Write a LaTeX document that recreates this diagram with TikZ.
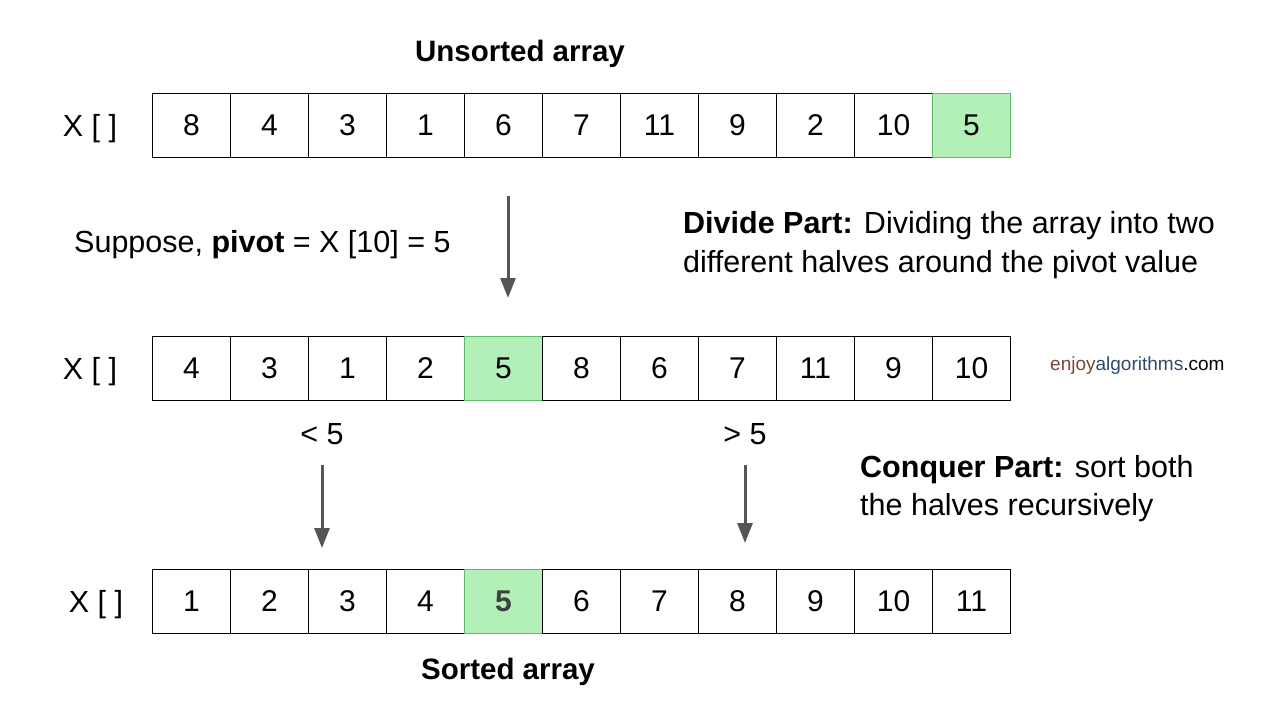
\documentclass[tikz,border=0pt]{standalone}
\usepackage{fontspec}
\setmainfont{Liberation Sans}
\usetikzlibrary{arrows.meta}
\definecolor{cellgreen}{HTML}{B3F0B8}
\definecolor{cellgreenb}{HTML}{5DBB6A}
\definecolor{arrowgray}{HTML}{555555}
\definecolor{wmbrown}{HTML}{7D4638}
\definecolor{wmblue}{HTML}{2F4B6C}
\tikzset{
  cell/.style={draw=black, line width=1pt, minimum width=78pt, minimum height=64pt, inner sep=0pt, font=\fontsize{30}{34}\selectfont, anchor=north west, fill=white},
  pivotcell/.style={cell, fill=cellgreen, draw=cellgreenb},
  lbl/.style={font=\fontsize{30.5}{34}\selectfont, inner sep=0pt, anchor=base},
  title/.style={font=\fontsize{29.5}{34}\selectfont\bfseries, inner sep=0pt, anchor=base},
  downarrow/.style={draw=arrowgray, line width=3pt, -{Triangle[length=20pt,width=15pt]}},
}
\begin{document}
\begin{tikzpicture}[x=1pt,y=-1pt]
\useasboundingbox (0,0) rectangle (1280,720);
\fill[white] (0,0) rectangle (1280,720);
% row 1
\foreach \v [count=\i from 0] in {8,4,3,1,6,7,11,9,2,10} {
  \node[cell] (ra\i) at ({152+78*\i},93) {\v};
}
\node[pivotcell] (ra10) at ({152+78*10},93) {5};
% row 2
\foreach \v [count=\i from 0] in {4,3,1,2} {
  \node[cell] (rb\i) at ({152+78*\i},336) {\v};
}
\node[pivotcell] (rb4) at ({152+78*4},336) {5};
\foreach \v [count=\i from 5] in {8,6,7,11,9,10} {
  \node[cell] (rb\i) at ({152+78*\i},336) {\v};
}
% row 3
\foreach \v [count=\i from 0] in {1,2,3,4} {
  \node[cell] (rc\i) at ({152+78*\i},569) {\v};
}
\node[pivotcell, text=black!75, font=\fontsize{30}{34}\selectfont\bfseries] (rc4) at ({152+78*4},569) {5};
\foreach \v [count=\i from 5] in {6,7,8,9,10,11} {
  \node[cell] (rc\i) at ({152+78*\i},569) {\v};
}
% labels
\node[title] (t1) at (520,61) {Unsorted array};
\node[title] (t2) at (508,679) {Sorted array};
\node[lbl] (xa) at (90,136) {X [ ]};
\node[lbl] (xb) at (90,379) {X [ ]};
\node[lbl] (xc) at (96,612) {X [ ]};
\node[lbl, anchor=base west] (sup) at (74,252) {Suppose, \textbf{pivot} = X [10] = 5};
\node[lbl, anchor=base west] (div1) at (683,233) {\textbf{Divide Part:} Dividing the array into two};
\node[lbl, anchor=base west] (div2) at (683,272) {different halves around the pivot value};
\node[lbl] (lt) at (322,444) {< 5};
\node[lbl] (gt) at (745,444) {> 5};
\node[lbl, anchor=base west] (con1) at (860,477) {\textbf{Conquer Part:} sort both};
\node[lbl, anchor=base west] (con2) at (860,515) {the halves recursively};
\node[inner sep=0pt, anchor=base west, font=\fontsize{19}{22}\selectfont] (wm) at (1050,370) {\textcolor{wmbrown}{enjoy}\textcolor{wmblue}{algorithms}.com};
% arrows
\coordinate (a1s) at (508,196); \coordinate (a1e) at (508,298);
\coordinate (a2s) at (322,465); \coordinate (a2e) at (322,548);
\coordinate (a3s) at (745,465); \coordinate (a3e) at (745,543);
\draw[downarrow] (a1s) -- (a1e);
\draw[downarrow] (a2s) -- (a2e);
\draw[downarrow] (a3s) -- (a3e);
\end{tikzpicture}
\end{document}
